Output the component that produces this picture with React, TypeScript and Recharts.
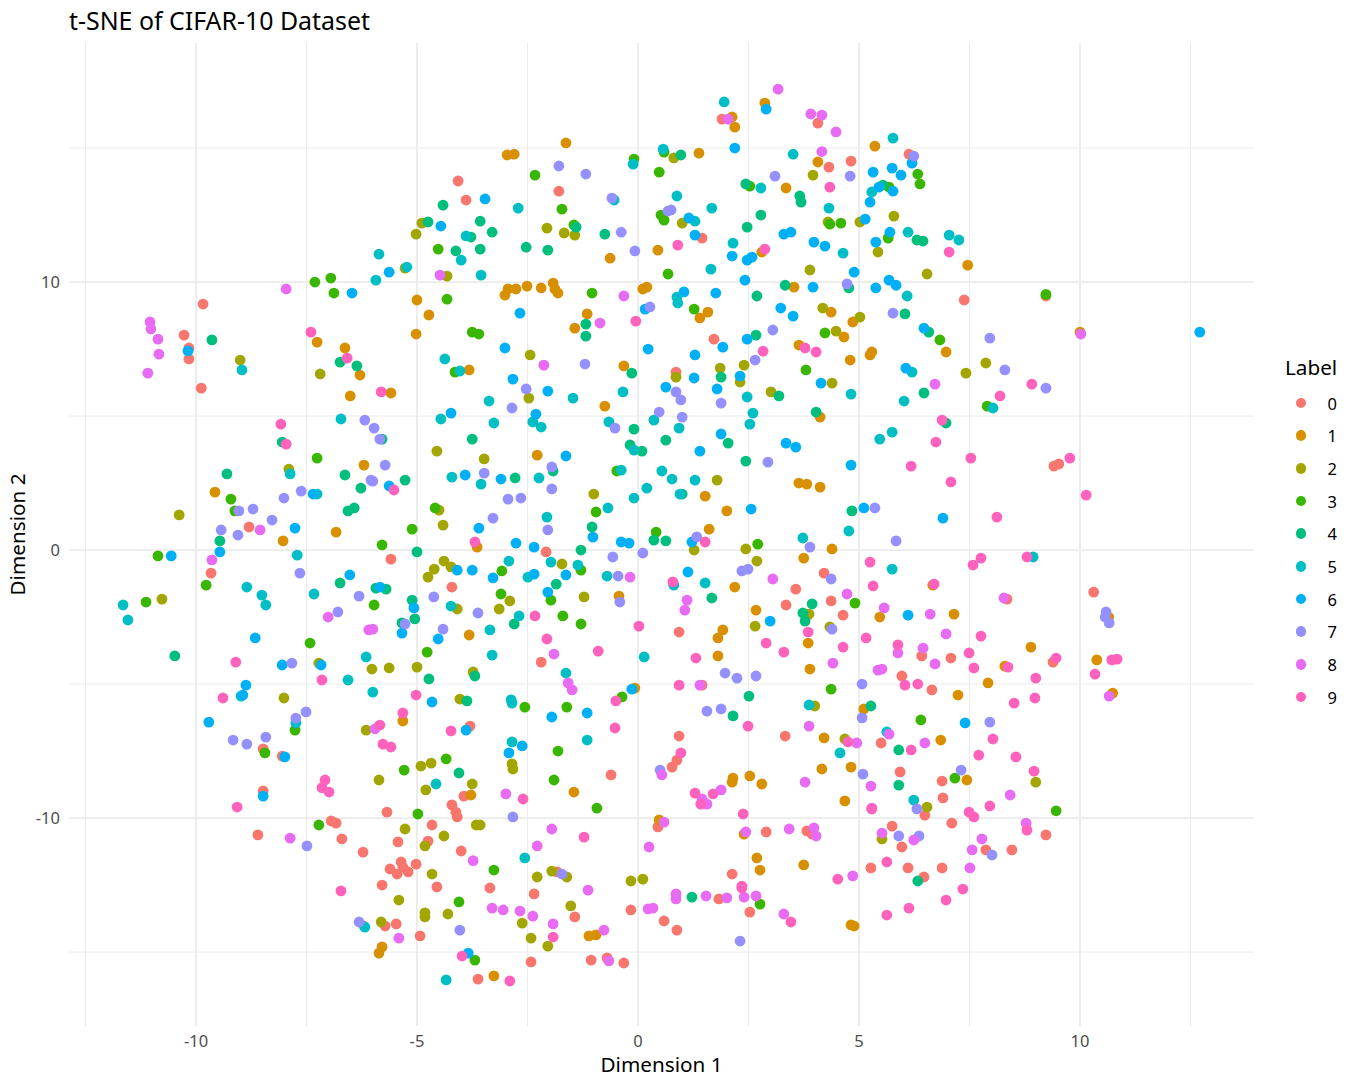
import { ScatterChart, Scatter, XAxis, YAxis, CartesianGrid } from "recharts";

type Pt = [number, number];

const labels = ["0", "1", "2", "3", "4", "5", "6", "7", "8", "9"];
const colors = ["#F8766D", "#D89000", "#A3A500", "#39B600", "#00BF7D", "#00BFC4", "#00B0F6", "#9590FF", "#E76BF3", "#FF62BC"];

const xTicks = [-10, -5, 0, 5, 10];
const yTicks = [-10, 0, 10];
const xMinor = [-12.5, -7.5, -2.5, 2.5, 7.5, 12.5];
const yMinor = [-15, -5, 5, 15];

const label0: Pt[] = [[-3.8,-6.57],[-5.68,-9.78],[-4.66,-10.26],[-4.75,-10.86],[-5.43,-10.89],[-3.94,-9.18],[-4.21,-9.51],[-4.12,-9.78],[-4.09,-9.96],[-4,-11.23],[-5.02,-11.72],[-5.36,-11.64],[-5.61,-11.9],[-5.32,-11.83],[-5.45,-12.09],[-5.2,-12.01],[-5.79,-12.5],[-4.55,-12.57],[-3.35,-12.61],[-2.35,-12.83],[-5.72,-14.03],[-5.47,-13.95],[-4.93,-14.4],[-1.43,-13.69],[-0.16,-13.43],[0.59,-13.84],[0.45,-10.33],[-0.61,-8.39],[-1.83,-12.01],[-2.42,-15.37],[-1.06,-15.3],[-0.7,-15.22],[-0.32,-15.41],[-3.62,-16.01],[1.45,-5.04],[5.97,-4.7],[6.65,-5.22],[0.93,-6.94],[0.88,-7.84],[0.77,-8.1],[3.33,-6.94],[5.5,-7.2],[5.93,-8.28],[6.88,-8.62],[6.9,-9.25],[6.49,-9.89],[7.1,-10.19],[2.9,-10.52],[3.82,-10.48],[3.94,-10.6],[5.75,-10.3],[5.97,-11.08],[5.27,-11.86],[6.11,-11.86],[6.88,-11.86],[6.47,-12.2],[2.13,-12.09],[1.83,-13.02],[2.53,-13.51],[0.88,-14.18],[4.21,-0.86],[3.57,-1.46],[3.35,-2.05],[4.37,-1.9],[4.64,-2.43],[0.93,-3.06],[6.42,-3.95],[7.08,-4.03],[0.86,6.64],[-5.59,-0.34],[-2.08,-0.07],[-4.21,-1.38],[-2.19,-4.18],[1.9,16.08],[4.07,15.93],[4.32,14.29],[4.82,14.51],[6.13,14.77],[1.45,11.64],[1.72,7.87],[7.38,9.33],[-4.07,13.77],[-3.89,13.06],[-1.79,13.39],[-9.84,9.18],[-10.27,8.02],[-10.16,7.54],[-10.16,7.13],[-9.88,6.04],[-8.8,0.86],[-9.66,-0.86],[-8.48,-7.42],[-8.05,-7.69],[-8.48,-8.99],[-6.94,-10.11],[-6.83,-10.19],[-8.6,-10.63],[-6.7,-10.78],[-6.22,-11.27],[9.23,9.48],[9.41,3.13],[9.52,3.21],[10.31,-1.57],[8.35,-1.83],[9.39,-4.18],[7.87,-11.19],[8.46,-11.19],[9.23,-10.63],[-6.2,-14.03]];

const label1: Pt[] = [[-7.26,7.76],[-6.63,7.54],[-6.29,6.53],[-6.51,5.75],[-6.2,3.17],[-9.57,2.16],[-6.83,0.67],[-8.03,0.34],[-1.63,15.19],[-2.96,14.74],[-2.8,14.77],[0.45,11.19],[-0.63,10.89],[-5,9.33],[-4.73,8.77],[-5.02,8.06],[-3.01,9.51],[-2.94,9.74],[-2.76,9.74],[-2.51,9.85],[-2.19,9.78],[-1.92,9.96],[-1.88,9.74],[-1.81,9.59],[0.11,9.74],[0.2,9.81],[-1.15,8.81],[-1.43,8.28],[-0.32,6.87],[-3.82,6.72],[-5.59,5.86],[-0.75,5.37],[2.87,16.68],[2.13,16.16],[2.19,15.78],[1.38,14.81],[5.36,15.07],[4.07,14.48],[3.35,13.51],[2.8,11.12],[3.53,9.81],[1.58,8.88],[1.4,8.66],[4.37,8.88],[4.86,8.51],[4.66,7.95],[3.64,7.65],[5.29,7.39],[5.25,7.28],[4.8,7.09],[6.97,7.39],[7.46,10.63],[-2.28,3.54],[-3.64,0.11],[-0.43,-1.72],[-3.82,-3.17],[-5.32,-6.38],[-0.07,-5.15],[4.12,4.96],[3.64,2.5],[3.82,2.46],[4.12,2.35],[1.52,2.01],[2.01,1.46],[1.61,0.78],[4.39,0.04],[3.75,-0.3],[2.19,-1.38],[2.67,-2.24],[5.47,-2.5],[7.15,-2.39],[1.92,-2.98],[1.81,-3.28],[1.81,-3.95],[3.85,-3.47],[3.89,-4.44],[6.67,-1.31],[7.24,-5.41],[5.11,-5.93],[4.21,-7.01],[6.85,-7.09],[4.16,-8.17],[4.82,-8.1],[2.53,-8.43],[2.15,-8.51],[2.13,-8.66],[2.8,-8.73],[4.68,-9.36],[2.4,-10.6],[2.69,-11.49],[2.76,-11.94],[3.75,-11.75],[4.82,-13.99],[4.89,-14.03],[7.44,-8.58],[-3.78,-9.14],[-1.45,-9.03],[0.48,-10.07],[-1.11,-14.4],[-0.95,-14.36],[-5.79,-14.81],[-5.86,-15.04],[-3.26,-15.89],[10,8.13],[10.65,-2.5],[8.89,-3.62],[10.38,-4.1],[8.3,-4.33],[7.92,-4.96],[10.74,-5.34]];

const label2: Pt[] = [[-9,7.09],[-7.19,6.57],[-7.9,3.02],[-10.38,1.31],[-4.89,12.2],[-5.02,11.79],[-2.06,12.01],[-1.67,11.83],[-1.43,11.75],[-5.27,10.52],[-4.32,10.22],[-2.44,7.28],[-2.47,5.67],[0.81,14.63],[1,12.2],[2.4,6.9],[1.86,6.79],[3.96,13.99],[4.3,12.24],[5.02,12.24],[5.79,12.46],[5.43,11.12],[3.89,10.45],[6.54,10.3],[4.18,9.03],[5.02,8.69],[4.48,8.17],[7.42,6.6],[-4.55,3.69],[-3.48,3.4],[-1,2.09],[-4.5,1.49],[-4.41,0.93],[-4.39,-0.41],[-4.61,-0.71],[-4.23,-0.63],[-4.75,-1.01],[-1.72,-0.52],[-2.9,-1.9],[-3.14,-2.2],[-4.09,-2.2],[-1.22,-1.75],[-5.63,-4.4],[-6.02,-4.44],[-5,-4.37],[-3.73,-4.55],[-4.03,-5.56],[-4.91,-8.06],[-4.68,-7.95],[-5.86,-8.58],[-4.8,-8.95],[-3.75,-8.73],[-2.85,-7.98],[-2.83,-8.17],[-5.27,-10.41],[-4.39,-10.67],[-4.82,-11.04],[-3.66,-10.26],[-3.57,-10.26],[-4.66,-12.09],[-5.41,-13.06],[-4.82,-13.54],[-4.82,-13.69],[-4.3,-13.58],[-5.81,-13.88],[-2.62,-13.92],[-2.42,-14.48],[-2.04,-14.78],[-1.52,-13.28],[-2.28,-12.2],[-1.95,-11.98],[-1.61,-12.2],[-0.16,-12.35],[0.11,-12.28],[0.86,6.45],[2.31,6.27],[3.01,5.9],[4.39,6.23],[1.79,2.61],[1.27,0],[2.44,0.04],[2.69,-0.41],[2.65,-2.84],[3.87,-2.39],[4.34,-2.87],[4,-5.82],[4.68,-7.05],[6.54,-9.59],[5.52,-10.78],[7.87,6.98],[9,-8.66],[-10.77,-1.83],[-8.01,-5.52],[-7.22,-4.22],[-6.15,-6.72]];

const label3: Pt[] = [[-7.31,10],[-6.95,10.15],[-6.88,9.59],[-7.26,3.43],[-9.21,1.9],[-9.12,1.46],[-10.86,-0.22],[-2.33,13.99],[-0.09,14.59],[0.48,14.1],[0.59,14.85],[-1.72,12.72],[-1.45,12.13],[0.52,12.5],[0.59,12.31],[-4.52,11.23],[0.68,10.3],[-4.32,9.36],[-1.04,9.59],[-3.75,8.13],[-3.6,8.06],[-4.14,6.64],[2.53,13.58],[5.68,13.54],[6.33,14.03],[6.38,13.66],[4.34,12.16],[4.59,12.2],[5.66,11.64],[1.27,8.99],[4.23,8.1],[6.83,7.84],[3.8,6.72],[-0.48,2.95],[-0.95,1.42],[-4.59,1.57],[-5.11,0.78],[-5.79,0.19],[0.41,0.67],[-3.08,-0.78],[-3.1,-1.64],[-1.97,-1.87],[-1.7,-2.46],[-1.29,-2.76],[-5.97,-2.05],[-4.77,-3.81],[-1.61,-5.86],[-2.56,-5.86],[-0.36,-5.48],[-1.29,-0.75],[2.71,0.22],[4.91,-1.98],[4.37,-5.19],[6.4,-6.34],[7.17,-8.51],[2.76,-13.21],[-4.34,-7.79],[-5.29,-8.21],[-1.81,-7.5],[-1.9,-8.58],[-0.93,-9.63],[-4.98,-9.85],[-3.26,-11.94],[-4.05,-13.13],[-3.69,-15.3],[-11.13,-1.94],[-9.77,-1.31],[-7.42,-3.47],[-7.76,-6.72],[-8.44,-7.57],[-7.22,-10.26],[9.23,9.54],[7.9,5.37],[9.46,-9.73]];

const label4: Pt[] = [[-9.64,7.84],[-6.74,7.01],[-6.36,6.87],[-8.05,4.03],[-9.3,2.84],[-6.63,2.8],[-6.27,2.31],[-6.56,1.46],[-6.42,1.57],[-9.46,0.34],[-4.41,12.87],[-4.75,12.24],[-3.57,12.27],[-3.3,11.86],[-3.78,11.68],[-4.12,11.16],[-3.57,11.23],[-2.53,11.3],[-2.04,11.19],[-1.4,12.05],[-0.75,11.79],[-1.18,8.43],[-1.18,7.98],[-0.14,6.6],[-0.09,4.51],[0.97,14.74],[2.44,13.66],[3.66,13.21],[3.69,12.98],[5.54,13.62],[2.78,12.5],[2.47,12.05],[6.31,11.57],[6.45,11.53],[3.33,9.88],[4.77,9.78],[2.69,9.48],[6.04,8.81],[2.67,8.02],[6.58,8.13],[-3.75,4.14],[-5.79,4.14],[-5.27,2.61],[-2.78,2.69],[-1.92,2.95],[-0.18,3.92],[0.09,3.69],[0.63,4.1],[-1.04,0.86],[0.36,0.37],[0.63,0.34],[-1.29,0],[-5,-0.07],[-5.7,-1.46],[-5.93,-1.42],[-5.11,-1.87],[-5.05,-2.57],[-5.34,-2.72],[-2.8,-2.76],[-1.85,-1.27],[-3.69,-4.7],[-4.73,-4.81],[-3.87,-5.63],[3.19,5.75],[6.47,5.86],[4.03,5.15],[6.97,4.74],[2.04,3.99],[2.44,3.32],[4.84,1.46],[1,2.09],[1.67,-1.79],[3.94,-2.01],[3.73,-2.35],[3.78,-2.65],[1.88,6.45],[2.51,-5.45],[5.27,-5.82],[2.15,-6.19],[5.9,-7.46],[5.9,-8.77],[6.33,-12.35],[1.22,-12.95],[-4.05,-8.32],[-10.48,-3.95],[-6.74,-1.23]];

const label5: Pt[] = [[-8.96,6.72],[-6.72,4.89],[-7.87,2.84],[-7.26,2.09],[-7.71,-0.19],[0.57,14.96],[-0.11,14.4],[-0.54,13.06],[-2.71,12.76],[-3.89,11.72],[-4,10.82],[-5.86,11.04],[-5.23,10.56],[-5.93,10.07],[-3.55,10.26],[-4.03,6.68],[-4.37,7.13],[-3.37,5.56],[-4.46,4.89],[-3.26,4.74],[-2.38,4.78],[-2.19,4.59],[-1.47,5.67],[-0.34,5.9],[-0.66,4.78],[0.36,4.85],[1.95,16.72],[3.51,14.77],[5.77,15.37],[0.88,13.21],[2.78,13.51],[1.67,12.76],[1.29,12.27],[4.32,12.76],[5.29,13.36],[2.15,11.45],[6.11,11.86],[7.04,11.75],[7.26,11.57],[4.64,11.08],[1.65,10.48],[6.09,9.48],[0.88,9.44],[0.9,9.22],[-4.21,2.72],[-3.55,2.46],[-2.24,2.69],[-0.09,3.73],[-0.38,2.98],[0.54,2.95],[0.2,2.31],[-0.09,1.94],[-0.68,1.57],[-2.06,1.23],[-2.92,-0.41],[-1.97,-0.45],[-1.36,-0.56],[-2.49,-1.01],[-0.7,-0.97],[-2.69,-2.46],[-3.35,-2.98],[-4.23,-2.09],[-3.3,-3.92],[-1.63,-4.59],[0.14,-3.99],[-2.87,-5.59],[-2.85,-5.71],[-6,-5.3],[2.47,5.71],[2.6,5.11],[2.53,4.7],[4.82,5.82],[6.02,5.56],[5.75,4.4],[5.47,4.14],[0.93,4.55],[0.77,2.65],[1.29,2.61],[0.95,2.09],[3.73,0.45],[4.77,0.71],[5.75,-0.71],[1.52,-1.23],[0.81,-1.31],[6.2,6.64],[-1.15,-7.09],[-4.57,-8.73],[-2.56,-11.49],[-4.34,-16.04],[3.87,-5.78],[5.63,-6.79],[4.57,-7.57],[6.24,-9.33],[-11.65,-2.05],[-11.54,-2.61],[-8.85,-1.38],[-8.51,-1.68],[-8.42,-2.05],[-7.33,-1.64],[-6.56,-4.85],[-6.15,-3.99],[-8.98,-5.45],[-7.74,-6.45],[8.03,5.3],[8.94,-0.26],[-6.18,-14.07],[-2.85,-7.16]];

const label6: Pt[] = [[-6.47,9.59],[-10.18,7.43],[-7.35,2.09],[-7.76,0.82],[-10.56,-0.22],[-9.46,-0.07],[-3.46,13.1],[-4.46,12.09],[-5.63,10.37],[-2.67,8.84],[-3.01,7.54],[0.16,8.99],[0.23,7.5],[-2.83,6.38],[-2.04,5.93],[0.63,6.08],[-4.23,5.11],[-2.31,5.07],[2.9,16.45],[2.19,15],[6.2,14.44],[5.32,14.1],[5.75,14.25],[5.95,13.99],[5.45,13.54],[5.77,13.39],[5.25,12.98],[5.14,12.35],[1.15,12.39],[1.29,11.75],[3.3,11.79],[3.46,11.86],[3.98,11.49],[4.23,11.34],[5.7,11.86],[5.38,11.49],[2.13,10.97],[2.47,10.82],[2.58,10.93],[4.89,10.37],[2.42,10.07],[3.96,9.81],[5.38,9.78],[5.68,10.07],[5.84,9.88],[1.04,9.63],[1.76,9.59],[3.23,9.03],[3.51,8.73],[6.47,8.28],[2.47,7.87],[1.92,7.57],[1.29,7.28],[6.06,6.79],[-1.63,3.51],[-3.91,2.8],[-3.1,2.65],[-5.63,2.39],[-3.6,0.82],[-1.02,0.48],[-0.38,0.3],[-0.2,0.26],[-2.76,0.26],[-2.35,0.11],[-4.09,-0.75],[-3.75,-0.75],[-3.28,-1.04],[-2.35,-0.9],[-1.63,-0.93],[-2.04,-1.57],[-5.07,-2.16],[-5.34,-3.1],[-4.52,-3.32],[-5.84,-1.38],[-4.66,-5.67],[-0.14,-5.19],[-1.95,-6.23],[-1.15,-6.08],[-3.89,-6.72],[1.27,6.42],[1.79,6.01],[2.31,6.49],[4.14,6.23],[1.88,4.33],[3.35,3.99],[3.57,3.84],[1.4,3.69],[4.82,3.17],[2.56,1.53],[5.11,1.57],[6.9,1.19],[1.22,0.3],[1.13,-0.82],[2.99,-2.65],[6.11,-2.43],[-2.62,-7.31],[-2.92,-7.57],[-3.84,-15.04],[7.4,-6.45],[-6.52,-0.93],[-8.66,-3.28],[-8.05,-4.29],[-7.17,-4.29],[-8.87,-5.04],[-8.94,-5.41],[-9.71,-6.42],[-8.48,-9.18],[-7.99,-7.72],[12.71,8.13]];

const label7: Pt[] = [[-6.18,4.85],[-7.62,2.2],[-8.01,1.94],[-9.03,1.46],[-8.71,1.53],[-8.28,1.12],[-9.43,0.75],[-9.05,0.56],[-6.04,2.61],[-7.65,-0.86],[-1.79,14.33],[-1.18,14.03],[-0.59,13.13],[0.68,12.65],[-0.38,11.86],[-0.07,11.16],[0.27,9.07],[-1.2,6.94],[-2.53,6.01],[-2.85,5.3],[0.48,5.15],[-0.52,4.55],[-5.97,4.55],[3.1,13.95],[4.8,13.95],[6.24,14.7],[0.75,12.69],[2.65,7.09],[3.05,8.21],[5.77,8.84],[4.73,9.93],[-5.84,4.14],[-5.72,3.17],[-6,2.57],[-3.48,2.87],[-1.95,3.1],[-1.95,2.28],[-2.94,1.9],[-2.65,1.94],[-3.28,1.19],[-2.04,0.75],[-0.57,-0.26],[0.11,-0.11],[-0.45,-0.97],[-0.41,-1.94],[-3.62,-2.35],[-4.62,-1.75],[-5.27,-2.76],[-4.41,-2.95],[0.86,5.9],[0.97,5.6],[1.88,5.48],[1,4.96],[2.94,3.28],[5.36,1.57],[5.84,0.34],[1.33,0.49],[3.89,0.11],[2.35,-0.78],[2.49,-0.71],[4.37,-1.08],[4.39,-2.95],[1.97,-4.59],[2.24,-4.78],[2.67,-4.7],[5.07,-5],[1.56,-6.01],[1.88,-5.93],[5.07,-6.26],[5.09,-8.36],[6.31,-9.66],[7.31,-8.21],[5.9,-10.67],[6.36,-10.67],[2.31,-14.59],[0.5,-8.21],[-2.83,-9.96],[-1.72,-12.09],[-4.03,-14.18],[-6.31,-1.72],[-6.79,-2.31],[-7.83,-4.22],[-7.51,-6.04],[-7.74,-6.27],[-8.42,-6.98],[-9.16,-7.09],[-8.85,-7.24],[-7.49,-11.04],[7.96,7.91],[8.3,6.72],[9.23,6.04],[10.59,-2.31],[10.57,-2.5],[10.66,-2.72],[7.96,-6.42],[8.01,-11.38],[-6.31,-13.88]];

const label8: Pt[] = [[-7.96,9.74],[-11.04,8.51],[-11.02,8.25],[-10.86,7.87],[-10.84,7.31],[-11.09,6.6],[-8.55,0.75],[-9.64,-0.37],[-4.48,10.26],[-0.32,9.48],[-0.86,8.47],[-2.13,6.9],[3.17,17.2],[2.04,16.08],[3.91,16.27],[4.16,16.23],[4.48,15.6],[4.16,14.87],[-0.18,-1.01],[-6,-2.95],[-1.9,-3.88],[-1.58,-4.96],[-1.49,-5.22],[-5.95,-6.67],[6.72,6.19],[3.05,-1.08],[4.73,-1.64],[1.11,-1.87],[1.06,-2.24],[5.57,-2.16],[6.61,-2.39],[6.97,-3.13],[4.41,-4.22],[6.45,-3.66],[5.88,-3.84],[6.72,-4.25],[5.43,-4.48],[5.52,-4.44],[1.4,-5.04],[3.87,-6.57],[5.68,-6.87],[4.95,-7.2],[6.49,-7.2],[1.88,-8.95],[1.45,-9.29],[1.56,-9.48],[3.78,-8.66],[5.27,-8.81],[5.29,-9.63],[2.44,-10.52],[3.42,-10.41],[3.98,-10.37],[4.03,-10.67],[5.52,-10.56],[6.24,-10.82],[7.56,-11.19],[7.51,-11.86],[4.86,-12.16],[2.01,-12.98],[2.4,-12.95],[1.54,-12.91],[0.86,-12.83],[0.86,-13.02],[2.67,-12.91],[3.3,-13.58],[0.54,-8.39],[-2.99,-9.1],[-2.28,-11.04],[-1.95,-10.41],[-3.73,-11.59],[-1.13,-12.69],[0.25,-11.08],[-3.3,-13.36],[-3.05,-13.43],[-2.67,-13.47],[-2.38,-13.66],[-1.92,-13.95],[-0.77,-14.18],[0.23,-13.39],[0.34,-13.36],[-5.41,-14.48],[-0.66,-15.33],[0.59,-10.15],[-7.01,-2.5],[-7.87,-10.75],[-6.09,-2.98],[10.02,8.06],[8.28,-1.79],[10.66,-5.45],[8.42,-9.14],[8.78,-10.19],[7.78,-10.78]];

const label9: Pt[] = [[-7.4,8.13],[-6.58,7.16],[-8.08,4.7],[-7.96,3.95],[-0.05,8.54],[-5.81,5.9],[4.34,13.54],[2.87,11.23],[0.9,11.38],[2.83,7.42],[3.78,7.54],[4.03,7.39],[7.04,11.12],[-5.52,2.24],[-3.69,0.3],[-2.33,-2.46],[0.02,-2.84],[-2.06,-3.32],[-0.9,-3.77],[-5.02,-5.41],[-0.5,-5.63],[-5.32,-6.08],[-5.84,-6.53],[-4.23,-6.75],[-0.52,-6.64],[6.88,4.85],[6.74,4.03],[6.18,3.13],[7.08,2.54],[7.53,3.43],[1.52,0.3],[5.25,-0.45],[5.32,-1.34],[6.7,-1.27],[0.79,-1.19],[5.16,-3.28],[3.85,-3.06],[4.64,-3.62],[2.9,-3.47],[3.3,-3.81],[1.31,-4.03],[5.88,-3.54],[0.93,-5.04],[6.04,-5.04],[6.33,-5],[2.49,-6.57],[4.75,-7.16],[6.18,-7.46],[0.97,-7.57],[1.29,-9.07],[1.7,-9.1],[1.42,-9.48],[2.38,-9.85],[5.29,-9.66],[7.49,-9.78],[5.63,-11.64],[4.52,-12.28],[2.35,-12.54],[2.35,-12.61],[7.35,-12.65],[6.97,-13.06],[6.13,-13.36],[5.63,-13.62],[3.46,-13.88],[-5.77,-7.24],[-5.59,-7.35],[-2.6,-9.29],[-1.22,-10.71],[-1.92,-14.44],[-2.9,-16.08],[-3.98,-15.15],[-9.1,-4.18],[-7.15,-4.85],[-9.39,-5.52],[-7.08,-8.58],[-7.15,-8.87],[-6.99,-9.03],[-9.07,-9.59],[8.91,6.19],[8.19,5.75],[9.77,3.43],[10.14,2.05],[8.12,1.23],[7.76,-0.3],[7.58,-0.56],[8.8,-0.26],[7.76,-3.21],[7.49,-3.84],[7.6,-4.4],[8.37,-4.37],[9,-4.78],[9.46,-4.03],[10.34,-4.63],[10.72,-4.1],[10.84,-4.07],[8.51,-5.71],[8.98,-5.52],[8.03,-7.05],[7.71,-7.65],[8.55,-7.72],[8.96,-8.25],[7.96,-9.55],[7.6,-9.96],[8.8,-10.45],[-6.72,-12.72]];

const series = [label0, label1, label2, label3, label4, label5, label6, label7, label8, label9];

const FONT = "'Noto Sans', sans-serif";

const Dot = (p: any) => <circle cx={p.cx} cy={p.cy} r={5.4} fill={p.fill} />;

export default function App() {
  return (
    <div style={{ position: "absolute", left: 0, top: 0, width: 1358, height: 1086, fontFamily: FONT, background: "#fff" }}>
      <div style={{ position: "absolute", left: 69, top: 3, fontSize: 24.9, color: "#000", whiteSpace: "nowrap" }}>t-SNE of CIFAR-10 Dataset</div>
      <ScatterChart width={1358} height={1086} margin={{ top: 43, right: 104, bottom: 0, left: 0 }}>
        <CartesianGrid verticalValues={xMinor} horizontalValues={yMinor} stroke="#EBEBEB" strokeWidth={1} />
        <CartesianGrid verticalValues={xTicks} horizontalValues={yTicks} stroke="#EBEBEB" strokeWidth={1.8} />
        <XAxis
          type="number"
          dataKey="x"
          domain={[-12.873, 13.937]}
          ticks={xTicks}
          allowDataOverflow
          height={60}
          axisLine={false}
          tickLine={false}
          tickMargin={3}
          tick={{ fontSize: 16.5, fill: "#4D4D4D", fontFamily: FONT }}
          label={{ value: "Dimension 1", position: "insideBottom", offset: 14, fill: "#000", fontSize: 20.7, fontFamily: FONT }}
        />
        <YAxis
          type="number"
          dataKey="y"
          domain={[-17.76, 18.92]}
          ticks={yTicks}
          allowDataOverflow
          width={69}
          axisLine={false}
          tickLine={false}
          tickMargin={3}
          tick={{ fontSize: 16.5, fill: "#4D4D4D", fontFamily: FONT }}
          label={{ value: "Dimension 2", angle: -90, position: "insideLeft", offset: 18, fill: "#000", fontSize: 20.7, fontFamily: FONT, style: { textAnchor: "middle" } }}
        />
        {series.map((pts, i) => (
          <Scatter
            key={labels[i]}
            name={labels[i]}
            data={pts.map(([x, y]) => ({ x, y }))}
            fill={colors[i]}
            shape={Dot}
            isAnimationActive={false}
          />
        ))}
      </ScatterChart>
      <div style={{ position: "absolute", left: 1285, top: 353, fontSize: 20.7, color: "#000" }}>Label</div>
      {labels.map((l, i) => (
        <div key={l} style={{ position: "absolute", left: 1285, top: 387 + i * 32.67, width: 60, height: 32, fontSize: 16.5, color: "#000" }}>
          <span style={{ position: "absolute", left: 10.5, top: 10.5, width: 10.8, height: 10.8, borderRadius: "50%", background: colors[i] }} />
          <span style={{ position: "absolute", left: 42.6, top: 4.7 }}>{l}</span>
        </div>
      ))}
    </div>
  );
}
